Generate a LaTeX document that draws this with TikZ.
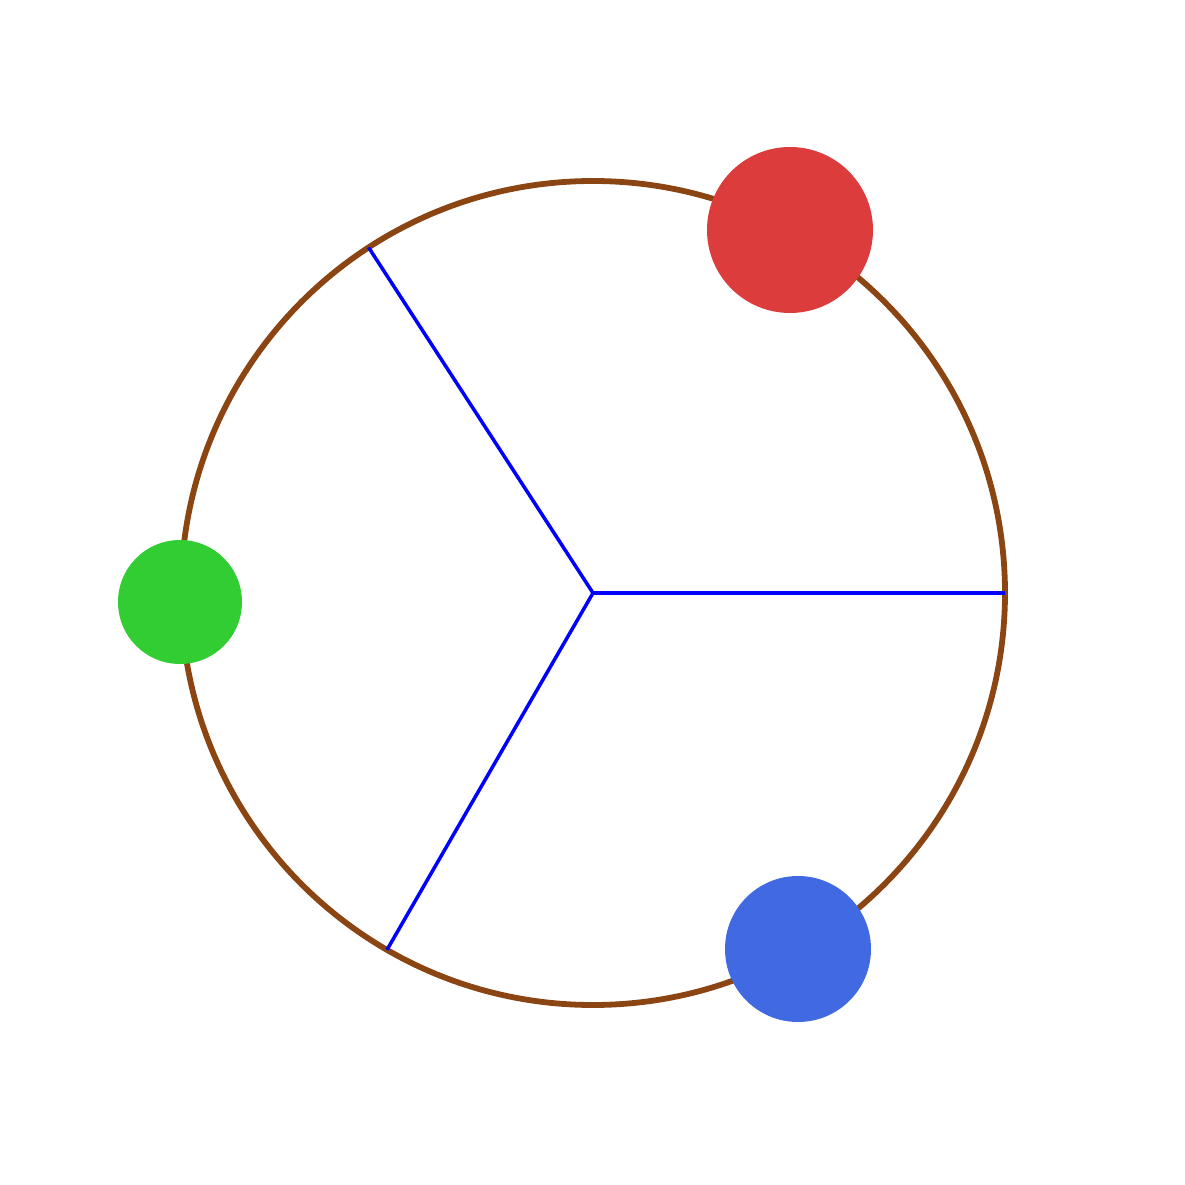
\documentclass[tikz,border=0pt]{standalone}
\usepackage{tikz}
\usetikzlibrary{positioning}

\definecolor{rim}{RGB}{139,69,19}
\definecolor{ballred}{RGB}{220,60,60}
\definecolor{ballgreen}{RGB}{50,205,50}
\definecolor{ballblue}{RGB}{65,105,225}

\begin{document}
\begin{tikzpicture}[x=0.02cm,y=0.02cm,
    spoke/.style={draw=blue,line width=2pt},
    ball/.style={circle,inner sep=0pt,minimum size=#1}]
  \useasboundingbox (-593,-592) rectangle (592,593);
  \coordinate (c) at (0,0);
  \draw[rim,line width=3.3pt] (c) circle (412);
  % spokes
  \coordinate (s1) at (0:412);
  \coordinate (s2) at (123:412);
  \coordinate (s3) at (240:412);
  \draw[spoke] (c) -- (s1) (c) -- (s2) (c) -- (s3);
  % balls on the rim
  \node[ball=166*0.02cm,fill=ballred]   (p1) at (197,363)   {};
  \node[ball=124*0.02cm,fill=ballgreen] (p2) at (-413,-9)   {};
  \node[ball=146*0.02cm,fill=ballblue]  (p3) at (205,-356)  {};
\end{tikzpicture}
\end{document}
